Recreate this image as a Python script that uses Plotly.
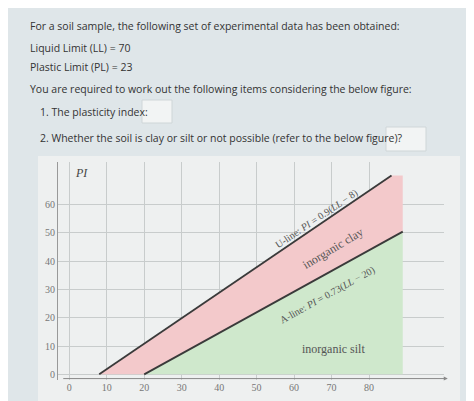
import plotly.graph_objects as go

# values
u_line_ll = [8, 86]
u_line_pi = [0, 70.2]
a_line_ll = [20, 89]
a_line_pi = [0, 50.4]
edge_ll = 89
x_ticks = [0, 10, 20, 30, 40, 50, 60, 70, 80]
y_ticks = [0, 10, 20, 30, 40, 50, 60]

W, H = 474, 401
L, T, B = 50, 154, 29
PW, PH = W - L - 38, H - T - B
serif = "Liberation Serif"
sans = "Open Sans"


def px(x):
    return (x - L) / PW


def py(y):
    return (H - B - y) / PH


fig = go.Figure()

# clay band (between U-line and A-line)
fig.add_trace(go.Scatter(
    x=u_line_ll + [edge_ll] + a_line_ll[::-1],
    y=u_line_pi + [u_line_pi[1]] + [a_line_pi[1], a_line_pi[0]],
    fill="toself", fillcolor="#f3c9cb", line=dict(width=0), mode="lines",
    hoverinfo="skip"))
# silt region below A-line
fig.add_trace(go.Scatter(
    x=a_line_ll + [edge_ll],
    y=a_line_pi + [0],
    fill="toself", fillcolor="#cfe8cc", line=dict(width=0), mode="lines",
    hoverinfo="skip"))
fig.add_trace(go.Scatter(x=u_line_ll, y=u_line_pi, mode="lines",
                         line=dict(color="#3a3a3a", width=1.8)))
fig.add_trace(go.Scatter(x=a_line_ll, y=a_line_pi, mode="lines",
                         line=dict(color="#3a3a3a", width=1.8)))

lbl = dict(family=serif, size=10, color="#555")
fig.add_annotation(x=66, y=55, text="U-line: <i>PI</i> = 0.9(<i>LL</i> − 8)",
                   textangle=-34, showarrow=False, font=lbl)
fig.add_annotation(x=70.5, y=44.5, text="inorganic clay", textangle=-31,
                   showarrow=False, font=dict(family=serif, size=12, color="#555"))
fig.add_annotation(x=69, y=28, text="A-line: <i>PI</i> = 0.73(<i>LL</i> − 20)",
                   textangle=-29, showarrow=False, font=lbl)
fig.add_annotation(x=70.5, y=9, text="inorganic silt", showarrow=False,
                   font=dict(family=serif, size=12, color="#555"))
fig.add_annotation(x=1, y=71, text="<i>PI</i>", showarrow=False, xanchor="left",
                   font=dict(family=serif, size=12, color="#444"))
fig.add_annotation(x=96, y=-4, text="<i>LL</i>", showarrow=False, yanchor="top",
                   font=dict(family=serif, size=12, color="#444"))
# x axis arrow
fig.add_annotation(x=101, y=-1.5, ax=-2, ay=-1.5, xref="x", yref="y",
                   axref="x", ayref="y", text="", showarrow=True,
                   arrowhead=2, arrowsize=0.8, arrowwidth=1, arrowcolor="#888")

# question text
lines = [
    (20, 18, "For a soil sample, the following set of experimental data has been obtained:"),
    (20, 40, "Liquid Limit (LL) = 70"),
    (20, 59, "Plastic Limit (PL) = 23"),
    (20, 81, "You are required to work out the following items considering the below figure:"),
    (30, 104, "1. The plasticity index:"),
    (30, 130, "2. Whether the soil is clay or silt or not possible (refer to the below figure)?"),
]
for x, y, t in lines:
    fig.add_annotation(x=px(x), y=py(y), xref="paper", yref="paper", text=t,
                       showarrow=False, xanchor="left", yanchor="middle",
                       font=dict(family=sans, size=10.5, color="#333"))

shapes = [
    dict(type="rect", xref="paper", yref="paper", x0=px(30), x1=px(452),
         y0=py(398), y1=py(148), fillcolor="#eef0f0", line=dict(width=0), layer="below"),
    dict(type="rect", xref="paper", yref="paper", x0=px(134), x1=px(164),
         y0=py(115), y1=py(92), fillcolor="#f2f4f4", line=dict(color="#cfd6d8", width=1)),
    dict(type="rect", xref="paper", yref="paper", x0=px(378), x1=px(418),
         y0=py(143), y1=py(119), fillcolor="#f2f4f4", line=dict(color="#cfd6d8", width=1)),
]
fig.update_layout(
    width=W, height=H, showlegend=False, shapes=shapes,
    margin=dict(l=L, r=38, t=T, b=B),
    paper_bgcolor="#dfe6e9", plot_bgcolor="#eef0f0",
    xaxis=dict(range=[-3, 100], tickvals=x_ticks, showgrid=True, gridcolor="#c8cccc",
               zeroline=False, showline=False, ticks="",
               tickfont=dict(family=serif, size=10, color="#777")),
    yaxis=dict(range=[-2, 75], tickvals=y_ticks, showgrid=True, gridcolor="#c8cccc",
               zeroline=False, showline=True, linecolor="#999", ticks="",
               tickfont=dict(family=serif, size=10, color="#777")),
)

fig.write_html("out.html")
